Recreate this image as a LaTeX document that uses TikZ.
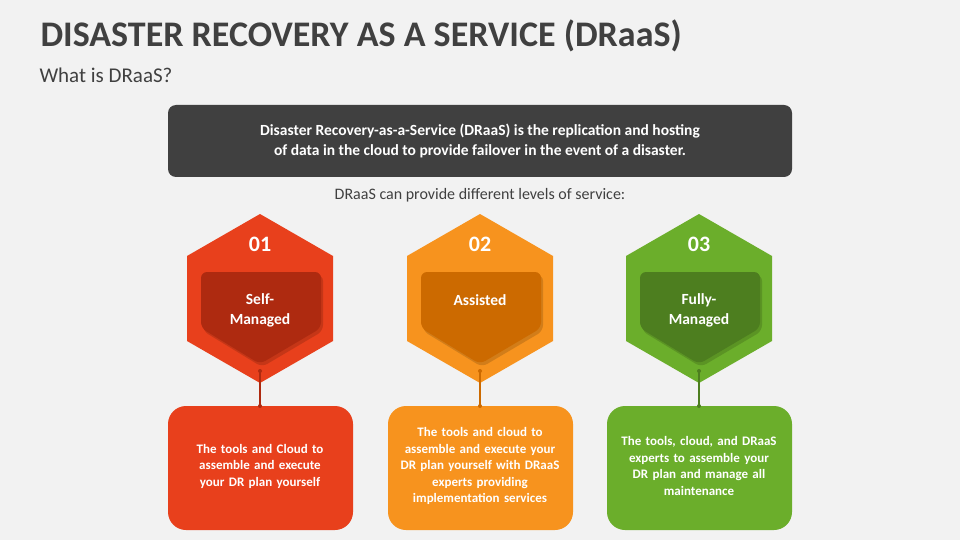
\documentclass[tikz,border=0pt]{standalone}
\usepackage{fontspec}
\setmainfont{Carlito}
\begin{document}
\begin{tikzpicture}[x=1pt,y=-1pt,
  hexnum/.style={text=white,font=\bfseries\fontsize{22}{24}\selectfont},
  lab/.style={text=white,font=\bfseries\fontsize{15.5}{20}\selectfont,align=center},
  boxtxt/.style={text=white,font=\bfseries\fontsize{13}{16.5}\selectfont,align=center,text width=170pt},
  conn/.style={line width=1.5pt}]
\definecolor{bg}{HTML}{F2F2F2}
\definecolor{cA}{HTML}{E8401C}\definecolor{dA}{HTML}{AE2A10}
\definecolor{cB}{HTML}{F7931E}\definecolor{dB}{HTML}{CC6A00}
\definecolor{cC}{HTML}{6BAE2B}\definecolor{dC}{HTML}{4D7E1F}
\definecolor{ttl}{HTML}{404040}
\fill[bg] (0,0) rectangle (960,540);
\useasboundingbox (0,0) rectangle (960,540);
\node[anchor=west,text=ttl,font=\bfseries\fontsize{36}{40}\selectfont] (title) at (37,36) {DISASTER RECOVERY AS A SERVICE (DRaaS)};
\node[anchor=west,text=ttl,font=\fontsize{21}{24}\selectfont] (sub) at (36,75) {What is DRaaS?};
\fill[ttl,rounded corners=8pt] (168,105) rectangle (792,177);
\node[text=white,font=\bfseries\fontsize{15.5}{19.5}\selectfont,align=center] (banner) at (480,141) {Disaster Recovery-as-a-Service (DRaaS) is the replication and hosting\\of data in the cloud to provide failover in the event of a disaster.};
\node[text=ttl,font=\fontsize{16}{18}\selectfont] (levels) at (480,195) {DRaaS can provide different levels of service:};
\foreach \cx/\c/\d/\n/\ly/\l/\t in {
 260/cA/dA/01/310/{Self-\\Managed}/{The tools and Cloud to\\assemble and execute\\your DR plan yourself},
 480/cB/dB/02/300/{Assisted}/{The tools and cloud to\\assemble and execute your\\DR plan yourself with DRaaS\\experts providing\\implementation services},
 699/cC/dC/03/310/{Fully-\\Managed}/{The tools, cloud, and DRaaS\\experts to assemble your\\DR plan and manage all\\maintenance}}{
  \fill[\c] (\cx,214) -- (\cx+73,256) -- (\cx+73,341) -- (\cx,383) -- (\cx-73,341) -- (\cx-73,256) -- cycle;
  \fill[black,opacity=0.15,rounded corners=6pt] (\cx-57,275) -- (\cx+63,275) -- (\cx+63,331) -- (\cx+2,367) -- (\cx-57,331) -- cycle;
  \fill[\d,rounded corners=6pt] (\cx-59,272) -- (\cx+61,272) -- (\cx+61,328) -- (\cx,364) -- (\cx-59,328) -- cycle;
  \node[hexnum] (n\n) at (\cx,244) {\n};
  \node[lab] (l\n) at (\cx,\ly) {\l};
  \fill[\c,rounded corners=18pt] (\cx-92,406) rectangle (\cx+93,530);
  \node[boxtxt] (b\n) at (\cx,466) {\t};
  \coordinate (top\n) at (\cx,371);
  \coordinate (bot\n) at (\cx,406);
  \draw[conn,\d] (top\n) -- (bot\n);
  \fill[\d] (top\n) circle (2pt) (bot\n) circle (2pt);
}
\end{tikzpicture}
\end{document}
